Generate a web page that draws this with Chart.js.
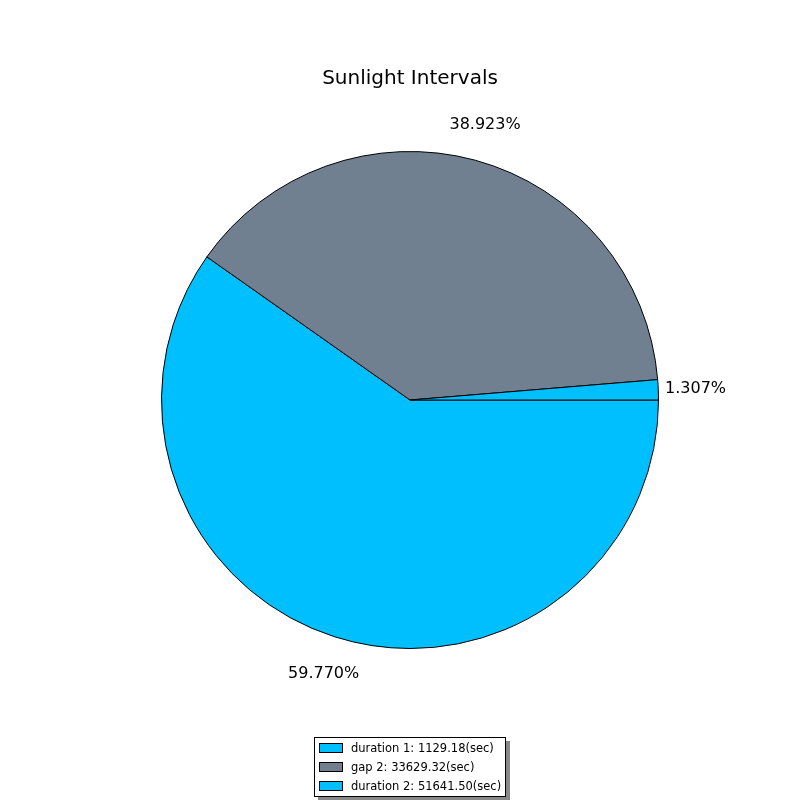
<!DOCTYPE html>
<html>
<head>
<meta charset="utf-8">
<script src="https://cdn.jsdelivr.net/npm/chart.js@4"></script>
<style>
  html, body { margin: 0; padding: 0; background: #fff; }
  #wrap { position: relative; width: 800px; height: 800px; font-family: "DejaVu Sans", sans-serif; }
  #pie { position: absolute; left: 0; top: 0; }
  #title { position: absolute; left: 0; width: 820px; top: 65px; text-align: center; font-size: 20px; color: #000; }
  #legend {
    position: absolute; left: 314px; top: 737px; width: 190px; height: 58px;
    border: 1px solid #000; background: #fff; box-shadow: 4px 4px 0 #888;
    font-size: 11.5px; color: #000;
  }
  #legend .row { position: absolute; left: 4px; height: 14px; line-height: 14px; white-space: nowrap; }
  #legend .sw { position: absolute; left: 0; top: 2px; width: 22px; height: 8px; border: 1px solid #000; }
  #legend .txt { position: absolute; left: 32px; top: 0; }
</style>
</head>
<body>
<div id="wrap">
  <canvas id="pie" width="800" height="800"></canvas>
  <div id="title">Sunlight Intervals</div>
  <div id="legend"></div>
</div>
<script>
const labels = ['duration 1', 'gap 2', 'duration 2'];
const seconds = [1129.18, 33629.32, 51641.50];
const colors = ['#00BFFF', '#708090', '#00BFFF'];

const total = seconds.reduce((a, b) => a + b, 0);
const pctText = seconds.map(s => (s / total * 100).toFixed(3) + '%');

// legend (same order as the data)
const legend = document.getElementById('legend');
labels.forEach((name, i) => {
  const row = document.createElement('div');
  row.className = 'row';
  row.style.top = (3 + i * 19) + 'px';
  row.innerHTML = `<span class="sw" style="background:${colors[i]}"></span>` +
    `<span class="txt">${name}: ${seconds[i].toFixed(2)}(sec)</span>`;
  legend.appendChild(row);
});

// matplotlib goes counter-clockwise from 3 o'clock, Chart.js clockwise,
// so feed the slices in reverse order
const drawOrder = [2, 1, 0];

const pctLabels = {
  id: 'pctLabels',
  afterDatasetsDraw(chart) {
    const ctx = chart.ctx;
    const arcs = chart.getDatasetMeta(0).data;
    ctx.save();
    ctx.font = '16px "DejaVu Sans"';
    ctx.fillStyle = '#000';
    ctx.textAlign = 'center';
    ctx.textBaseline = 'middle';
    arcs.forEach((arc, i) => {
      const p = arc.getProps(['x', 'y', 'startAngle', 'endAngle', 'outerRadius']);
      const mid = (p.startAngle + p.endAngle) / 2;
      const r = p.outerRadius * 1.15;
      ctx.fillText(pctText[drawOrder[i]], p.x + Math.cos(mid) * r, p.y + Math.sin(mid) * r + 1);
    });
    ctx.restore();
  }
};

new Chart(document.getElementById('pie'), {
  type: 'pie',
  data: {
    labels: drawOrder.map(i => labels[i]),
    datasets: [{
      data: drawOrder.map(i => seconds[i]),
      backgroundColor: drawOrder.map(i => colors[i]),
      borderColor: '#000',
      borderWidth: 1
    }]
  },
  options: {
    responsive: false,
    animation: false,
    rotation: 90,
    events: [],
    layout: { padding: { left: 161, right: 141, top: 151, bottom: 151 } },
    plugins: {
      legend: { display: false },
      tooltip: { enabled: false }
    }
  },
  plugins: [pctLabels]
});
</script>
</body>
</html>
